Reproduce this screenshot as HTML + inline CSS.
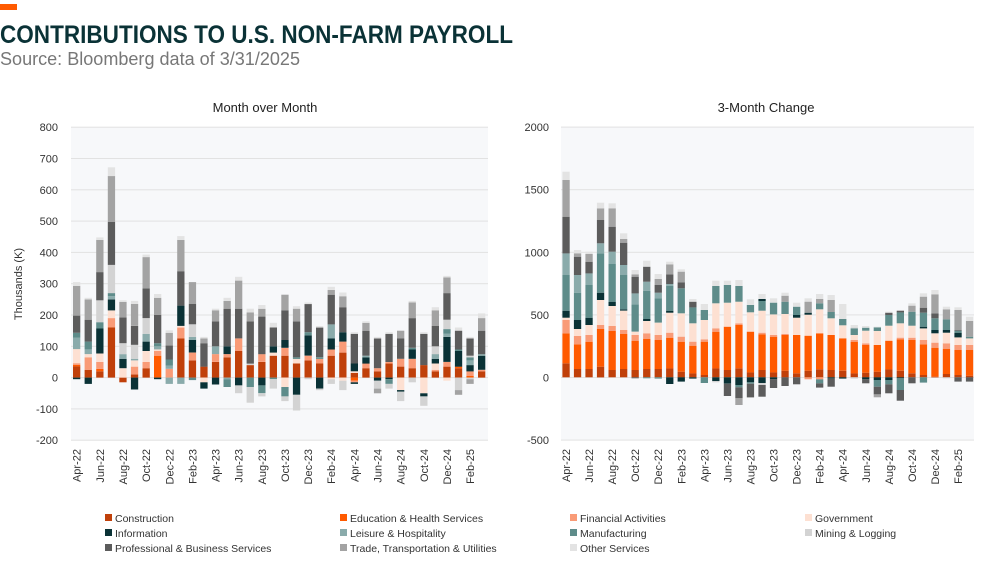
<!DOCTYPE html>
<html><head><meta charset="utf-8"><style>
body{margin:0;background:#fff;width:986px;height:562px;overflow:hidden;font-family:"Liberation Sans",sans-serif}
svg{position:absolute;left:0;top:0}
</style></head><body>
<svg id="s" width="986" height="562" xmlns="http://www.w3.org/2000/svg">
<rect x="0" y="4" width="17" height="6" fill="#ff5a00"/>
<text x="0" y="43" font-size="25" font-weight="bold" fill="#0a3236" textLength="513" lengthAdjust="spacingAndGlyphs">CONTRIBUTIONS TO U.S. NON-FARM PAYROLL</text>
<text x="0" y="65" font-size="18" fill="#777" textLength="300" lengthAdjust="spacingAndGlyphs">Source: Bloomberg data of 3/31/2025</text>
<text x="265" y="112" font-size="13" fill="#222" text-anchor="middle">Month over Month</text>
<text x="766" y="112" font-size="13" fill="#222" text-anchor="middle">3-Month Change</text>
<text transform="translate(22,284) rotate(-90)" font-size="11" fill="#333" text-anchor="middle">Thousands (K)</text>
<g id="g"></g>
</svg>
<script>
var C={c:"#c0400a",e:"#ff5a00",f:"#f99b77",g:"#fde0d2",i:"#0a3236",l:"#8aabab",m:"#5e8c8a",n:"#d3d3d3",p:"#5c5c5c",t:"#a3a3a3",o:"#e3e3e3"};
var ORD="cefgilmnpto";
var out="";
function R(x,y,w,h,f){out+='<rect x="'+x.toFixed(1)+'" y="'+y.toFixed(1)+'" width="'+w+'" height="'+h.toFixed(1)+'" fill="'+f+'"/>';}
function T(x,y,s,a,sz,extra){out+='<text x="'+x+'" y="'+y+'" font-size="'+(sz||11)+'" fill="#333" text-anchor="'+(a||"end")+'" '+(extra||"")+'>'+s+'</text>';}
// backgrounds
R(71,127,417,313,"#f7f8fa");R(561,127,413,313,"#f7f8fa");
var y0L=377.6,kL=0.313;
for(var v=-200;v<=800;v+=100){var y=y0L-v*kL;R(71,y-0.5,417,1,"#e2e2e2");T(58,y+4,v);}
var y0R=377.5,kR=313/2500;
for(var v=-500;v<=2000;v+=500){var y=y0R-v*kR;R(561,y-0.5,413,1,"#e2e2e2");T(549,y+4,v);}
// left data
var L=[
"c36 e5 f5 g45 l37 m15 p55 t95 o12 i-5","c25 f40 g10 l15 m25 p70 t65 o5 i-20","c20 e8 f22 g27 i80 m20 n70 p90 t103 o8",
"c160 f30 g25 i35 m10 l10 n90 p137 t147 o28","g30 i30 l15 n35 p82 t50 o5 c-15","c10 f25 g20 l5 n45 p60 t70 o10 i-38",
"c30 f20 g35 i30 l25 n50 p95 t100 o8","e70 f15 g5 l10 m10 p90 t55 o12 i-5","f28 m20 l10 p45 t40 o8 l-20",
"c125 f35 g5 i65 p110 t100 o12 l-20","c55 f25 i40 l10 n40 p65 t70 m-8","c35 p75 t15 o5 g-15 i-20",
"c50 f25 l25 p80 t35 o5 i-22","c65 f10 i25 p120 t25 o10 m-25 l-5","c85 f40 p95 t90 o12 i-25 n-25",
"c40 n5 p135 t28 o12 m-30 n-50","c50 f25 p120 t25 o12 i-25 m-25 n-10","c70 g10 i20 p60 o15 m-5 n-30",
"c70 f25 i25 p95 t50 g-30 m-30 n-15","c45 g15 m5 p115 t40 o8 i-55 n-50","c55 f15 i65 m10 p90 o5 n-5",
"c45 f15 m5 p95 o5 i-35 n-5","c70 f20 i35 l45 p95 t15 o10 g-5 n-15","c80 f35 i30 p80 t35 o12 g-10 n-30",
"c15 g5 i25 p95 o5 e-10 f-5 i-5","c30 f15 i20 l5 p80 t25 o5","c20 f10 p95 o5 i-10 n-25 t-15",
"c45 f5 p90 o5 i-5 m-15 n-15","c35 f25 p65 t25 g-40 i-5 n-30","c30 f30 i30 m5 p95 t50 o5 n-15",
"c40 p100 o5 g-50 i-10 n-30","c20 f5 g20 i15 l15 n25 p65 t50 o10","c35 f15 i80 m15 l10 n30 p85 t50 o5 g-10",
"c30 e5 i50 m5 p60 o10 n-40 t-15","e5 f15 i20 l15 m10 n5 p55 o5 t-15 n-5","c20 f5 i45 l5 p75 t40 o15"];
var labs=["Apr-22","Jun-22","Aug-22","Oct-22","Dec-22","Feb-23","Apr-23","Jun-23","Aug-23","Oct-23","Dec-23","Feb-24","Apr-24","Jun-24","Aug-24","Oct-24","Dec-24","Feb-25"];
function stackDraw(str,cx,y0,k,w){
  var segs=str.split(" ").map(function(s){return [s[0],+s.slice(1)]});
  segs.sort(function(a,b){return ORD.indexOf(a[0])-ORD.indexOf(b[0])});
  var up=y0,dn=y0;
  segs.forEach(function(s){var h=Math.abs(s[1])*k;
    if(s[1]>=0){up-=h;R(cx-w/2,up,w,h,C[s[0]]);}else{R(cx-w/2,dn,w,h,C[s[0]]);dn+=h;}});
}
for(var j=0;j<36;j++){stackDraw(L[j],76.7+j*11.57,y0L,kL,7.3);}
// right data: boundary zoom coords
var Rd=[
"c730 e640 f600 g593 i572 m465 l400 p290 t180 o155|","c747 e673 f648 g627 i600 m518 l465 p410 t400 o390|",
"c747 e665 f645 g615 i593 m495 l460 p425 t402 o395|","c740 e627 f615 g540 i518 m400 l370 p300 t265 o248|",
"c750 e633 f618 g558 i545 m432 l395 p320 t265 o250|","c747 e642 f630 g572 i568 m465 l435 p368 t357 o340|",
"c750 e662 f645 g635 m553 l520 p470 t463 o450|p775","c747 e657 f640 g603 i597 m512 l485 p440 o422|m775",
"c747 e660 f645 g608 m535 l518 p495 t477 o462|m776","c745 e653 f638 g578 i572 m497 l492 p463 t433 o425|i792",
"c755 e665 f650 g580 m505 p487 t455 o448|i785","c760 e677 f665 g610 m562 p545 o537|i776",
"c765 e665 f658 g600 m570 o552|m789","c745 e635 f625 g550 m498 o482|i783 n787",
"c750 e620 g548 m495 o482|i791 p828","c745 e615 f610 g545 m498 o480|i795 m802 p835 t855",
"c757 e635 g577 m555 o538|i787 m791 p832","c750 e643 f638 g572 m543 i537 o522|i789 n795 p830",
"c757 e650 f645 g583 m548 o535|i778 p804","c752 e645 f642 g582 m545 t527 o518|p798",
"c760 e645 g593 i585 m560 o548|p793","c752 e647 g584 i578 t545 o535|f778",
"c748 e640 g568 m550 t537 o522|f778 m790 p803","c750 e645 g595 m576 t540 o525|i776 p800",
"c752 e655 g616 m597 o552|i776","c760 e665 f660 g645 m625 n622 o615|n776",
"c758 e675 f670 g632 m623 o618|i778 p790","c755 e675 g633 m622 o620|i780 m800 p823 t832",
"c748 e662 g617 m585 p578 o575|i780 m793 p820","c752 e658 f653 g610 m577 p572|i775 m810 p842",
"c760 e660 f653 g617 m575 t557 o550|p790","c765 e673 f660 g625 i620 m578 p563 t530 o520|m788",
"c770 e683 f668 g640 i630 m595 p580 t523 o510|","c762 e687 f670 g638 i630 m598 t568 o560|n775",
"c765 e690 f675 g652 i638 m632 p630 t570 o562|p785","c767 e690 f675 g655 m650 t603 o590|p785"];
for(var j=0;j<36;j++){
  var cx=566+j*11.53,w=7.3,parts=Rd[j].split("|"),prev=772;
  parts[0].split(" ").forEach(function(s){var z=+s.slice(1);R(cx-w/2,120+z/3,w,(prev-z)/3,C[s[0]]);prev=z;});
  prev=772;
  if(parts[1])parts[1].split(" ").forEach(function(s){var z=+s.slice(1);R(cx-w/2,120+prev/3,w,(z-prev)/3,C[s[0]]);prev=z;});
}
// x labels
for(var q=0;q<18;q++){
  var xl=76.7+q*2*11.57, xr=566+q*2*11.53;
  out+='<text transform="translate('+(xl+4)+',449) rotate(-90)" font-size="11" fill="#333" text-anchor="end">'+labs[q]+'</text>';
  out+='<text transform="translate('+(xr+4)+',449) rotate(-90)" font-size="11" fill="#333" text-anchor="end">'+labs[q]+'</text>';
}
// legend
var leg=[["Construction","c",105,518],["Education &amp; Health Services","e",340,518],["Financial Activities","f",570,518],["Government","g",805,518],
["Information","i",105,533],["Leisure &amp; Hospitality","l",340,533],["Manufacturing","m",570,533],["Mining &amp; Logging","n",805,533],
["Professional &amp; Business Services","p",105,548],["Trade, Transportation &amp; Utilities","t",340,548],["Other Services","o",570,548]];
leg.forEach(function(a){R(a[2],a[3]-4,7,7,C[a[1]]);T(a[2]+10,a[3]+4,a[0],"start",10.5);});
document.getElementById("g").innerHTML=out;
</script>
</body></html>
